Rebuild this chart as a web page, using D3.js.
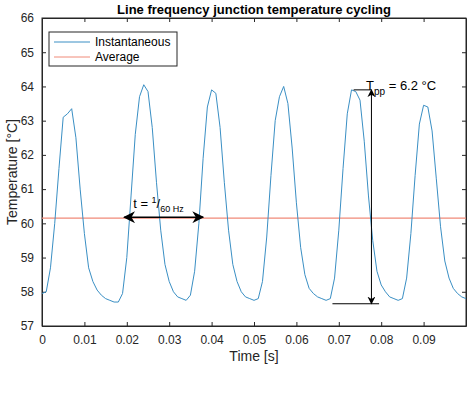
<!DOCTYPE html><html><head><meta charset="utf-8"><script src="https://cdn.jsdelivr.net/npm/d3@7"></script>
<style>body{margin:0;background:#fff}text{font-family:Arial,"Liberation Sans",sans-serif}</style></head><body><svg id="c" width="474" height="402"></svg>
<script>
const temps=[57.95,58.0,58.7,60.0,61.6,63.1,63.2,63.35,62.5,61.0,59.7,58.7,58.3,58.05,57.9,57.8,57.75,57.7,
57.7,57.95,59.0,60.8,62.6,63.7,64.05,63.85,62.8,61.2,59.8,58.8,58.3,58.0,57.85,57.8,57.75,
57.9,58.6,60.0,61.9,63.4,63.9,63.8,62.8,61.2,59.8,58.8,58.3,58.0,57.85,57.8,57.75,
57.8,58.3,59.6,61.4,63.0,63.7,64.0,63.5,62.2,60.6,59.3,58.5,58.1,57.95,57.85,57.8,57.75,
57.8,58.4,59.8,61.6,63.2,63.9,63.85,63.6,62.4,60.8,59.5,58.6,58.2,58.0,57.85,57.8,57.75,
57.8,58.4,59.7,61.4,62.9,63.45,63.4,62.7,61.3,59.9,58.9,58.4,58.1,57.95,57.85,57.8];
const dt=0.001;
const average=60.15;
const xTicks=[0,0.01,0.02,0.03,0.04,0.05,0.06,0.07,0.08,0.09];
const yTicks=[57,58,59,60,61,62,63,64,65,66];
const svg=d3.select("#c");
const L=42,R=466,T=18,B=326;
const x=d3.scaleLinear().domain([0,0.1]).range([L,R]);
const y=d3.scaleLinear().domain([57,66]).range([B,T]);
const ax="#262626";
svg.append("rect").attr("x",L).attr("y",T).attr("width",R-L).attr("height",B-T).attr("fill","none").attr("stroke",ax);
svg.append("g").attr("transform",`translate(0,${B})`).call(d3.axisBottom(x).tickValues(xTicks).tickSizeInner(-4).tickSizeOuter(0).tickPadding(9).tickFormat(d=>d===0?"0":d3.format(".2f")(d)));
svg.append("g").attr("transform",`translate(${L},0)`).call(d3.axisLeft(y).tickValues(yTicks).tickSizeInner(-4).tickSizeOuter(0).tickPadding(8));
svg.append("g").attr("transform",`translate(0,${T})`).call(d3.axisTop(x).tickValues(xTicks).tickSizeInner(-4).tickSizeOuter(0).tickFormat(""));
svg.append("g").attr("transform",`translate(${R},0)`).call(d3.axisRight(y).tickValues(yTicks).tickSizeInner(-4).tickSizeOuter(0).tickFormat(""));
svg.selectAll(".domain").attr("stroke",ax);
svg.selectAll(".tick line").attr("stroke",ax);
svg.selectAll(".tick text").attr("fill",ax).style("font-size","12px");
svg.append("line").attr("x1",x(0)).attr("x2",x(0.1)).attr("y1",y(average)).attr("y2",y(average)).attr("stroke","#f08a78").attr("stroke-width",1.2);
svg.append("path").datum(temps).attr("fill","none").attr("stroke","#3a8fc4").attr("stroke-width",1)
 .attr("d",d3.line().x((d,i)=>x(i*dt)).y(d=>y(d)));
svg.append("text").attr("x",(L+R)/2).attr("y",14).attr("text-anchor","middle").style("font-size","13px").style("font-weight","bold").text("Line frequency junction temperature cycling");
svg.append("text").attr("x",(L+R)/2).attr("y",361).attr("text-anchor","middle").style("font-size","14px").attr("fill",ax).text("Time [s]");
svg.append("text").attr("transform",`translate(17,${(T+B)/2}) rotate(-90)`).attr("text-anchor","middle").style("font-size","14px").attr("fill",ax).text("Temperature [°C]");
const lg=svg.append("g");
lg.append("rect").attr("x",49).attr("y",32).attr("width",128).attr("height",34).attr("fill","#fff").attr("stroke",ax);
lg.append("line").attr("x1",54).attr("x2",90).attr("y1",42).attr("y2",42).attr("stroke","#3a8fc4");
lg.append("line").attr("x1",54).attr("x2",90).attr("y1",57).attr("y2",57).attr("stroke","#f08a78");
lg.append("text").attr("x",95).attr("y",46).style("font-size","12px").text("Instantaneous");
lg.append("text").attr("x",95).attr("y",61).style("font-size","12px").text("Average");
const defs=svg.append("defs");
defs.append("marker").attr("id","ah").attr("viewBox","0 0 10 10").attr("refX",9).attr("refY",5).attr("markerWidth",8).attr("markerHeight",8).attr("orient","auto-start-reverse")
 .append("path").attr("d","M0,0 L10,5 L0,10 L3,5 Z").attr("fill","#000");
svg.append("line").attr("x1",x(0.0194)).attr("x2",x(0.0380)).attr("y1",y(60.18)).attr("y2",y(60.18)).attr("stroke","#000").attr("stroke-width",1.5).attr("marker-start","url(#ah)").attr("marker-end","url(#ah)");
const tt=svg.append("text").attr("x",x(0.0215)).attr("y",y(60.45)).style("font-size","13px");
tt.append("tspan").text("t = ");
tt.append("tspan").attr("dy",-5).style("font-size","9px").text("1");
tt.append("tspan").attr("dy",5).text("/");
tt.append("tspan").attr("dy",4).style("font-size","9px").text("60 Hz");
svg.append("line").attr("x1",x(0.0777)).attr("x2",x(0.0777)).attr("y1",y(63.9)).attr("y2",y(57.65)).attr("stroke","#000").attr("stroke-width",1).attr("marker-start","url(#ah)").attr("marker-end","url(#ah)");
svg.append("line").attr("x1",x(0.0735)).attr("x2",x(0.0777)).attr("y1",y(63.9)).attr("y2",y(63.9)).attr("stroke","#000");
svg.append("line").attr("x1",x(0.0685)).attr("x2",x(0.0795)).attr("y1",y(57.65)).attr("y2",y(57.65)).attr("stroke","#000");
const tp=svg.append("text").attr("x",366).attr("y",90).style("font-size","13px");
tp.append("tspan").text("T");
tp.append("tspan").attr("dy",5).style("font-size","10px").text("pp");
tp.append("tspan").attr("dy",-5).text(" = 6.2 °C");
</script></body></html>
